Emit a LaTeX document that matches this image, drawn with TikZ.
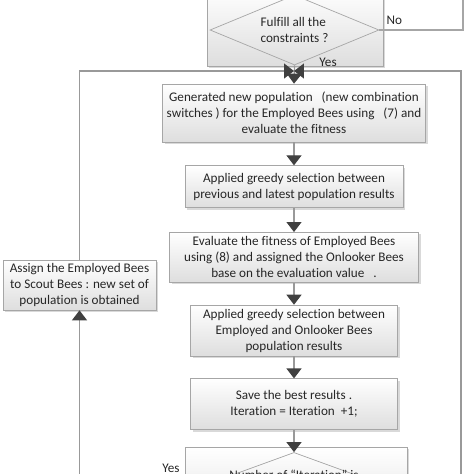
\documentclass[tikz,border=0pt]{standalone}
\usepackage{fontspec}
\setmainfont{Carlito}[Ligatures=NoCommon]
\usetikzlibrary{positioning,shapes.geometric,arrows.meta,shadows}

\begin{document}
\begin{tikzpicture}
[
   x=0.02cm, y=-0.02cm,
   align=center,
   font=\fontsize{7.5}{9.1}\selectfont,
   text=black!85
]

\tikzset{box/.style = {shape=rectangle, draw=black!35, top color=white, bottom color=black!13, inner sep=0pt,
   drop shadow={shadow xshift=1.2pt, shadow yshift=-1.2pt, opacity=0.3}}}
\tikzset{decision/.style = {shape=diamond, draw=black!35, inner sep=0pt, aspect=2.4}}
\tikzset{flow/.style = {-{Triangle[length=0.2cm, width=0.3cm, color=black!75]}, draw=black!40, line width=0.7pt}}
\tikzset{wire/.style = {draw=black!35, line width=0.8pt}}

\useasboundingbox (0,0) rectangle (474,474);
\clip (0,0) rectangle (474,474);

% nodes
\node[box, minimum width=3.52cm, minimum height=1.56cm] (topbg) at (295,27) {};
\node[decision, minimum width=3.38cm, minimum height=1.4cm, align=left] (fulfill) at (294.5,30) {Fulfill all the\\constraints ?};
\node[box, minimum width=5.26cm, minimum height=1.16cm] (gen) at (294,113)
   {Generated new population \ \ (new combination\\switches ) for the Employed Bees using \ \ (7) and\\evaluate the fitness};
\node[box, minimum width=4.36cm, minimum height=0.84cm] (greedy1) [below =0.46cm of gen]
   {Applied greedy selection between\\previous and latest population results};
\node[box, minimum width=4.98cm, minimum height=1.0cm] (evalfit) [below =0.48cm of greedy1]
   {Evaluate the fitness of Employed Bees\\using (8) and assigned the Onlooker Bees\\base on the evaluation value \ \ .};
\node[box, minimum width=4.14cm, minimum height=1.02cm] (greedy2) [below =0.44cm of evalfit]
   {Applied greedy selection between\\Employed and Onlooker Bees\\population results};
\node[box, minimum width=4.14cm, minimum height=1.02cm] (save) [below =0.44cm of greedy2]
   {Save the best results .\\Iteration = Iteration \ +1;};
\node[box, minimum width=4.44cm, minimum height=1.6cm, anchor=north] (botbg) at (296,447) {};
\node[decision, minimum width=3.84cm, minimum height=1.4cm] (iter) [below =0.44cm of save] {};
\node[anchor=base] (itertext) at ([yshift=0.16cm]iter.center) {Number of “Iteration” is};
\node[box, minimum width=3.06cm, minimum height=1.0cm] (scout) at (79.5,285)
   {Assign the Employed Bees\\to Scout Bees : new set of\\population is obtained};

\coordinate (merge) at (294,71);
\coordinate (rightin) at (461,500);
\coordinate (noend) at (463,-20);

% arcs
\draw[flow] (fulfill.south) -- node[pos=0, anchor=west, xshift=0.37cm, yshift=0.06cm] {Yes} (gen.north);
\draw[wire] (fulfill.east) -| node[pos=0.09, above=0.05cm, inner sep=1pt] {No} (noend);
\draw[flow] (scout.north) |- (merge);
\draw[flow] (rightin) |- (merge);
\draw[flow] (gen) -- (greedy1);
\draw[flow] (greedy1) -- (evalfit);
\draw[flow] (evalfit) -- (greedy2);
\draw[flow] (greedy2) -- (save);
\draw[flow] (save) -- (iter.north);
\draw[flow] (iter.west) -| node[pos=0.113, above=0.24cm, inner sep=1pt] {Yes} (scout.south);
\end{tikzpicture}
\end{document}
